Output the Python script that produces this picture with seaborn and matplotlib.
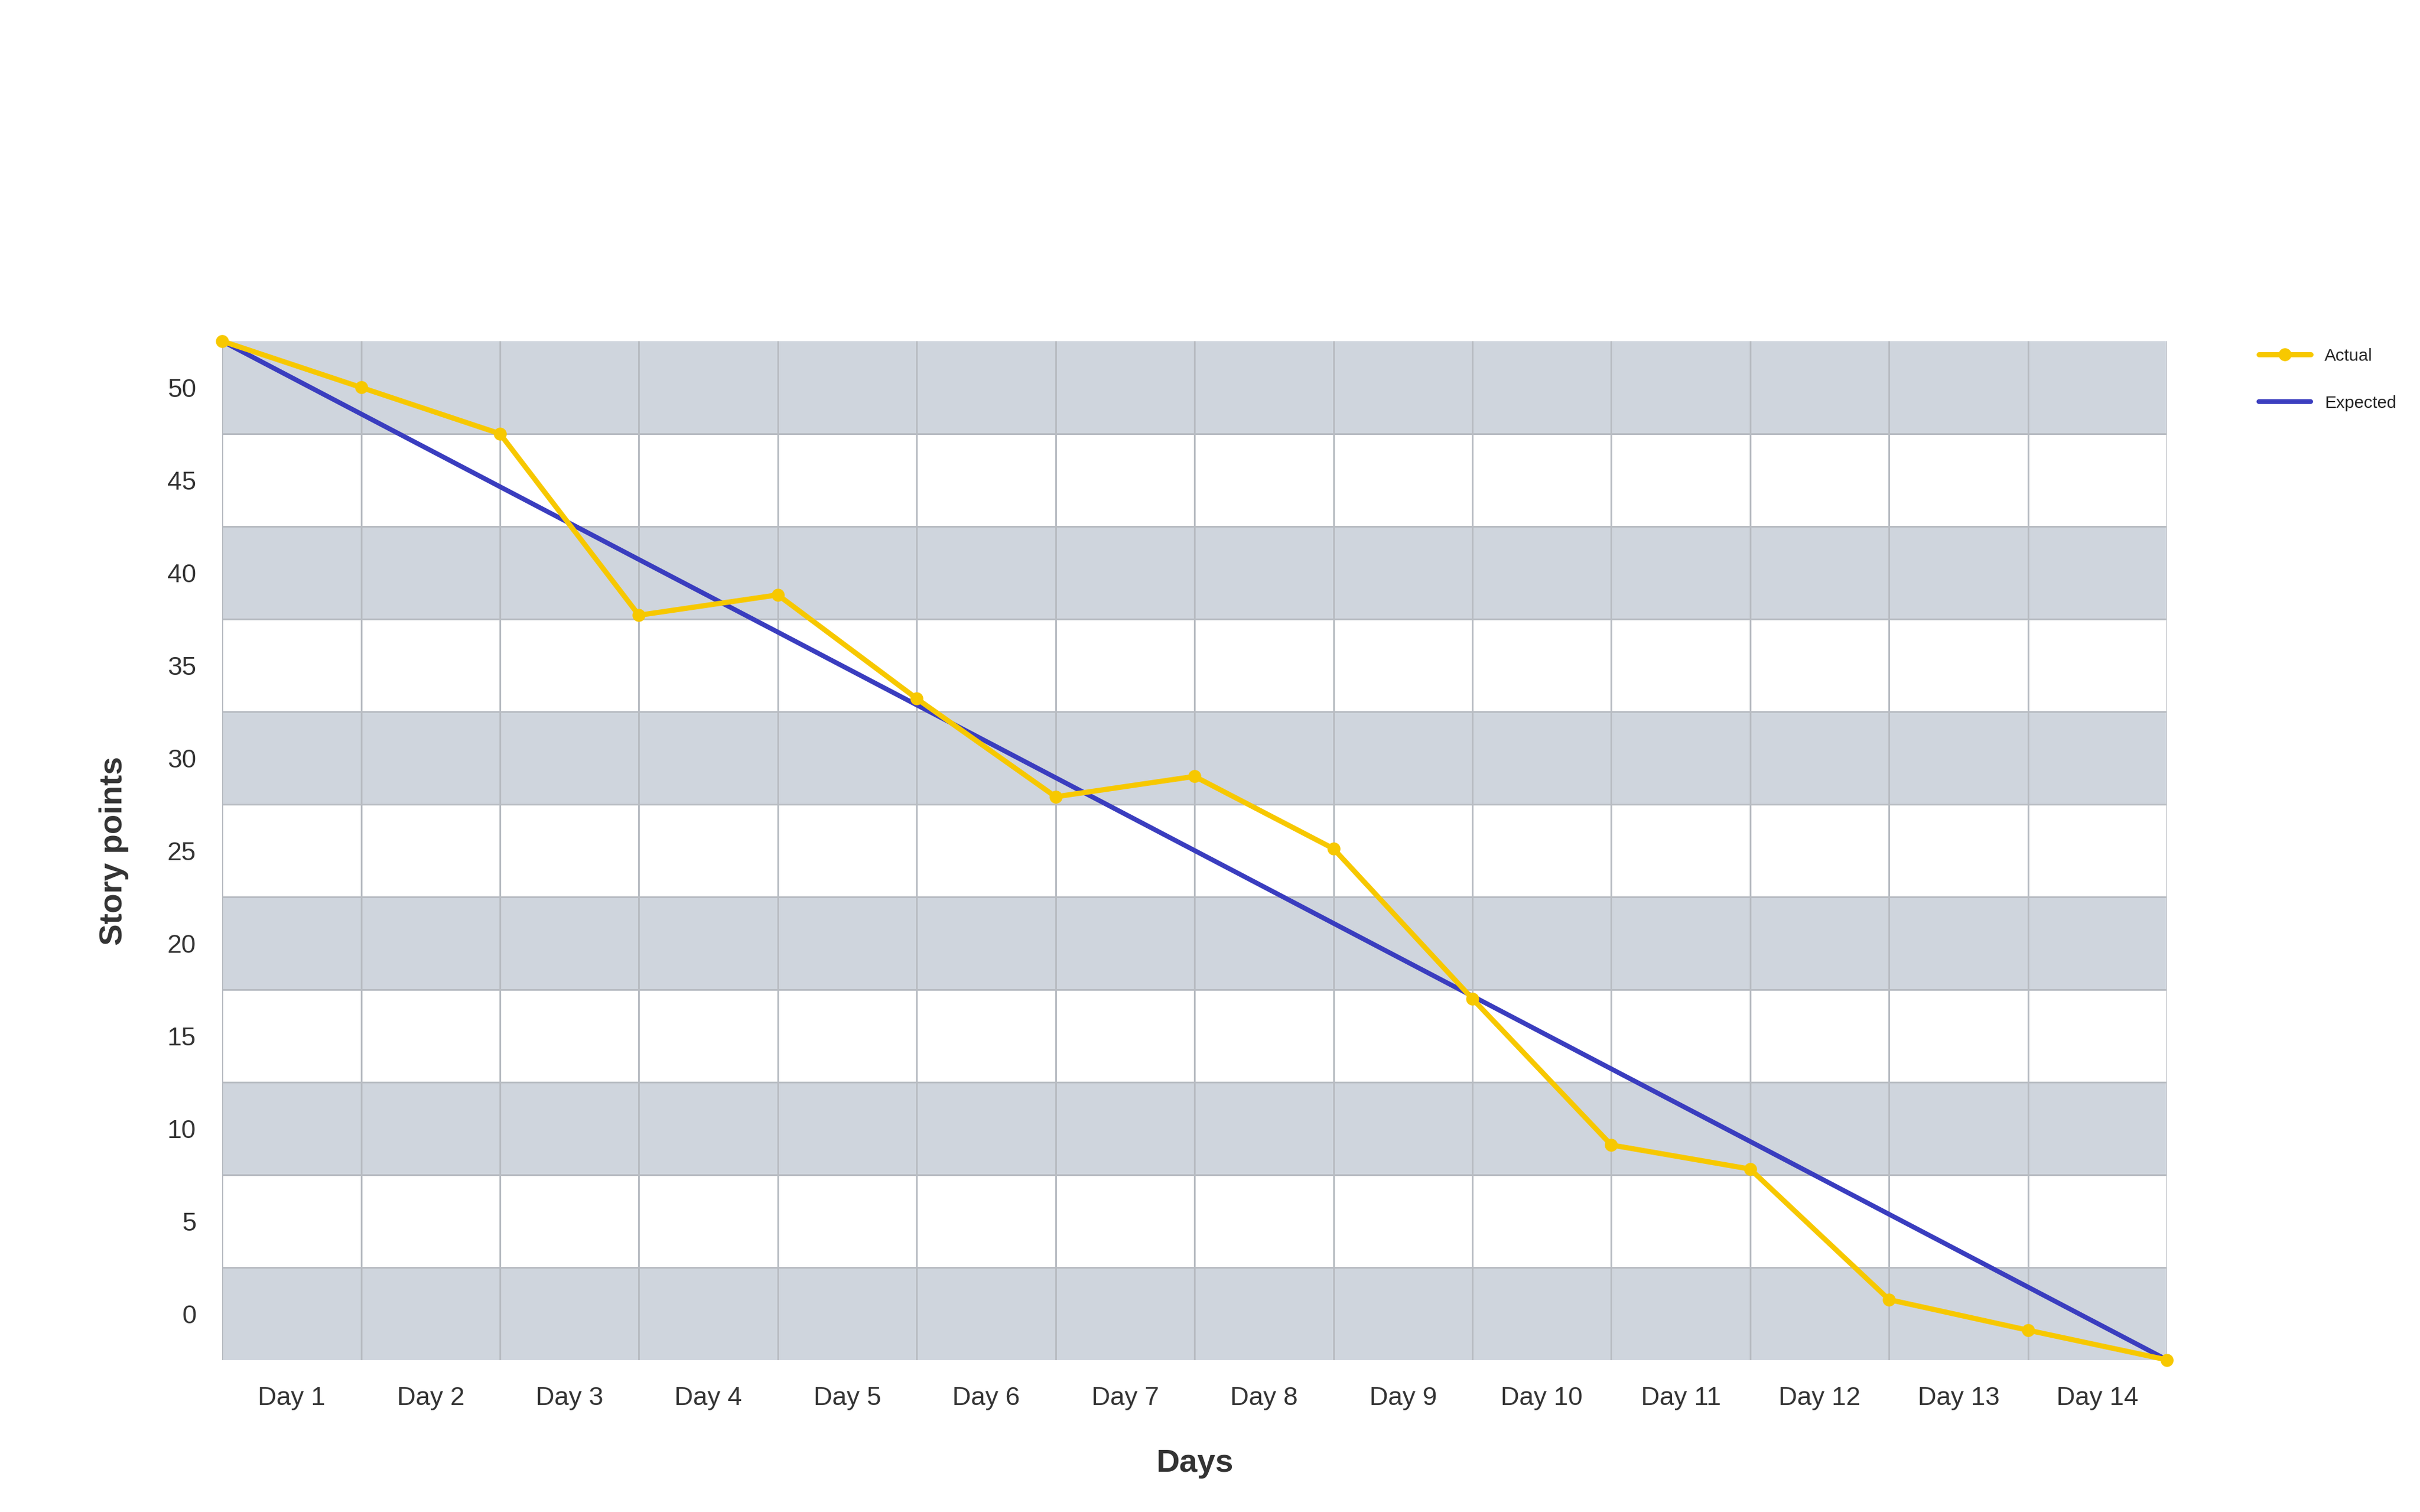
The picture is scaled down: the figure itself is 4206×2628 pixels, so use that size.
import matplotlib
matplotlib.use("Agg")
import matplotlib.pyplot as plt
import seaborn as sns
import pandas as pd

sns.set_theme(style="white")
plt.rcParams['font.family'] = ['Liberation Sans', 'DejaVu Sans']

days = list(range(15))
day_labels = [f"Day {i}" for i in range(1, 15)]
actual = [52.5, 50.0, 47.5, 37.7, 38.8, 33.2, 27.9, 29.0, 25.1, 17.0, 9.1, 7.8, 0.75, -0.9, -2.5]
expected = [52.5, 48.57, 44.64, 40.71, 36.79, 32.86, 28.93, 25.0, 21.07, 17.14, 13.21, 9.29, 5.36, 1.43, -2.5]
yticks = [0, 5, 10, 15, 20, 25, 30, 35, 40, 45, 50]

df = pd.DataFrame({"day": days, "Actual": actual, "Expected": expected})

fig = plt.figure(figsize=(15.578, 9.737), dpi=270)
ax = fig.add_axes([0.0918, 0.1006, 0.8036, 0.6735])

for i, t in enumerate(yticks):
    if i % 2 == 0:
        ax.axhspan(t - 2.5, t + 2.5, color="#cfd5dd", zorder=0, lw=0)
for t in yticks[:-1]:
    ax.axhline(t + 2.5, color="#b8bcc2", lw=0.8, zorder=1)
for d in days:
    ax.axvline(d, color="#b8bcc2", lw=0.8, zorder=1)

sns.lineplot(data=df, x="day", y="Expected", ax=ax, color="#3a3dbf", lw=2.2, label="Expected", zorder=3)
sns.lineplot(data=df, x="day", y="Actual", ax=ax, color="#f7c800", lw=2.4, marker="o",
             markersize=6, markeredgewidth=0, label="Actual", zorder=4, clip_on=False)

ax.set_xlim(0, 14)
ax.set_ylim(-2.5, 52.5)
ax.set_yticks(yticks)
ax.set_yticklabels([str(t) for t in yticks], fontsize=12, color="#333333")
ax.set_xticks([d + 0.5 for d in range(14)])
ax.set_xticklabels(day_labels, fontsize=12, color="#333333")
ax.tick_params(axis="both", length=0, pad=12)
ax.set_xlabel("Days", fontsize=15, fontweight="bold", color="#333333", labelpad=18)
ax.set_ylabel("Story points", fontsize=15, fontweight="bold", color="#333333", labelpad=18)
for s in ax.spines.values():
    s.set_visible(False)

h, l = ax.get_legend_handles_labels()
ax.get_legend().remove()
order = [l.index("Actual"), l.index("Expected")]
fig.legend([h[i] for i in order], [l[i] for i in order], loc="upper left",
           bbox_to_anchor=(0.927, 0.78), frameon=False, fontsize=8, labelspacing=1.8,
           handlelength=3)

fig.savefig("out.png", dpi=270)
